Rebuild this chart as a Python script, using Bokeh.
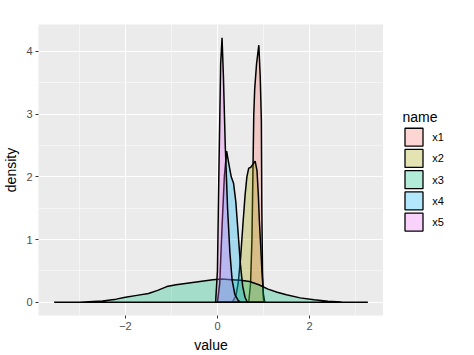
from bokeh.plotting import figure
from bokeh.models import Range1d, FixedTicker
from bokeh.layouts import row
from bokeh.core.properties import value
from bokeh.embed import file_html
from bokeh.resources import INLINE

names = ["x1", "x2", "x3", "x4", "x5"]
colors = ["#F8766D", "#A3A500", "#00BF7D", "#00B0F6", "#E76BF3"]

x1_x = [0.68, 0.72, 0.75, 0.77, 0.79, 0.81, 0.85, 0.90, 0.93, 0.955, 0.965, 0.98, 1.00, 1.02]
x1_y = [0.0, 0.3, 1.0, 2.0, 3.0, 3.4, 3.8, 4.10, 3.6, 2.9, 1.5, 0.5, 0.05, 0.0]

x2_x = [0.32, 0.40, 0.45, 0.50, 0.55, 0.60, 0.64, 0.68, 0.72, 0.77, 0.82, 0.86, 0.89, 0.91, 0.94, 0.97, 1.00, 1.03]
x2_y = [0.0, 0.1, 0.3, 0.68, 1.2, 1.7, 2.0, 2.14, 2.15, 2.2, 2.25, 2.1, 1.7, 1.32, 0.9, 0.45, 0.12, 0.0]

x3_x = [-3.55, -3.0, -2.5, -2.2, -2.0, -1.75, -1.5, -1.3, -1.1, -0.9, -0.7, -0.5, -0.3, -0.1, 0.1,
        0.3, 0.5, 0.7, 0.9, 1.1, 1.3, 1.5, 1.8, 2.1, 2.4, 2.7, 3.0, 3.27]
x3_y = [0.0, 0.002, 0.02, 0.05, 0.08, 0.11, 0.14, 0.19, 0.25, 0.28, 0.30, 0.32, 0.34, 0.36, 0.37,
        0.36, 0.35, 0.33, 0.28, 0.21, 0.16, 0.12, 0.07, 0.04, 0.015, 0.005, 0.001, 0.0]

x4_x = [0.0, 0.05, 0.10, 0.15, 0.20, 0.25, 0.30, 0.35, 0.40, 0.45, 0.50, 0.55, 0.60, 0.65]
x4_y = [0.0, 0.3, 1.2, 2.0, 2.41, 2.2, 2.0, 1.9, 1.6, 1.1, 0.6, 0.25, 0.08, 0.0]

x5_x = [-0.04, 0.0, 0.03, 0.07, 0.10, 0.13, 0.17, 0.22, 0.27, 0.32, 0.38, 0.45, 0.50]
x5_y = [0.0, 0.5, 2.0, 3.8, 4.22, 3.6, 2.5, 1.5, 0.8, 0.35, 0.12, 0.03, 0.0]

x_ticks = [-2, 0, 2]
x_minor = [-3, -1, 1, 3]
y_ticks = [0, 1, 2, 3, 4]
y_minor = [0.5, 1.5, 2.5, 3.5]

series = [(x1_x, x1_y), (x2_x, x2_y), (x3_x, x3_y), (x4_x, x4_y), (x5_x, x5_y)]

FONT = "Liberation Sans"

p = figure(width=383, height=355, output_backend="svg", toolbar_location=None,
           x_range=Range1d(-3.89, 3.61), y_range=Range1d(-0.211, 4.43),
           min_border_left=35, min_border_right=0, min_border_top=24, min_border_bottom=39)
p.background_fill_color = "#EBEBEB"
p.border_fill_color = "white"
p.outline_line_color = None

p.xaxis.ticker = FixedTicker(ticks=x_ticks, minor_ticks=x_minor)
p.yaxis.ticker = FixedTicker(ticks=y_ticks, minor_ticks=y_minor)
for ax in (p.xaxis, p.yaxis):
    ax.axis_line_color = None
    ax.major_tick_line_color = "#333333"
    ax.major_tick_line_width = 1
    ax.major_tick_out = 3
    ax.major_tick_in = 0
    ax.minor_tick_line_color = None
    ax.major_label_text_font = FONT
    ax.major_label_text_font_size = "11px"
    ax.major_label_text_color = "#4D4D4D"
    ax.axis_label_text_font = FONT
    ax.axis_label_text_font_size = "14px"
    ax.axis_label_text_font_style = "normal"
    ax.axis_label_text_color = "black"
    ax.major_label_standoff = 2
    ax.axis_label_standoff = 4
p.xaxis.axis_label = "value"
p.yaxis.axis_label = "density"

for g in (p.xgrid, p.ygrid):
    g.grid_line_color = "white"
    g.grid_line_width = 1.1
    g.minor_grid_line_color = "white"
    g.minor_grid_line_width = 0.5

for (xs, ys), col in zip(series, colors):
    p.patch(xs + [xs[-1], xs[0]], ys + [0, 0], fill_color=col, fill_alpha=0.3,
            line_color="black", line_width=1.5)

# legend panel: frame is aligned with the main frame (page y 24..316)
lg = figure(width=91, height=355, output_backend="svg", toolbar_location=None,
            x_range=Range1d(0, 91), y_range=Range1d(316, 24),
            x_axis_type=None, y_axis_type=None,
            min_border_left=0, min_border_right=0, min_border_top=24, min_border_bottom=39)
lg.xgrid.visible = False
lg.ygrid.visible = False
lg.outline_line_color = None
lg.background_fill_color = "white"
lg.border_fill_color = "white"

key_x = [30.5] * len(names)
key_y = [137.1 + 21.3 * i for i in range(len(names))]
lg.rect(x=key_x, y=key_y, width=18, height=18, fill_color=colors, fill_alpha=0.3,
        line_color="black", line_width=1.3)
lg.text(x=[48.7] * len(names), y=key_y, text=names, text_font=value(FONT),
        text_font_size="11px", text_baseline="middle", text_align="left", text_color="black")
lg.text(x=[19], y=[117], text=["name"], text_font=value(FONT), text_font_size="14px",
        text_baseline="middle", text_align="left", text_color="black")

layout = row(p, lg, spacing=0)
open("out.html", "w").write(file_html(layout, INLINE))
